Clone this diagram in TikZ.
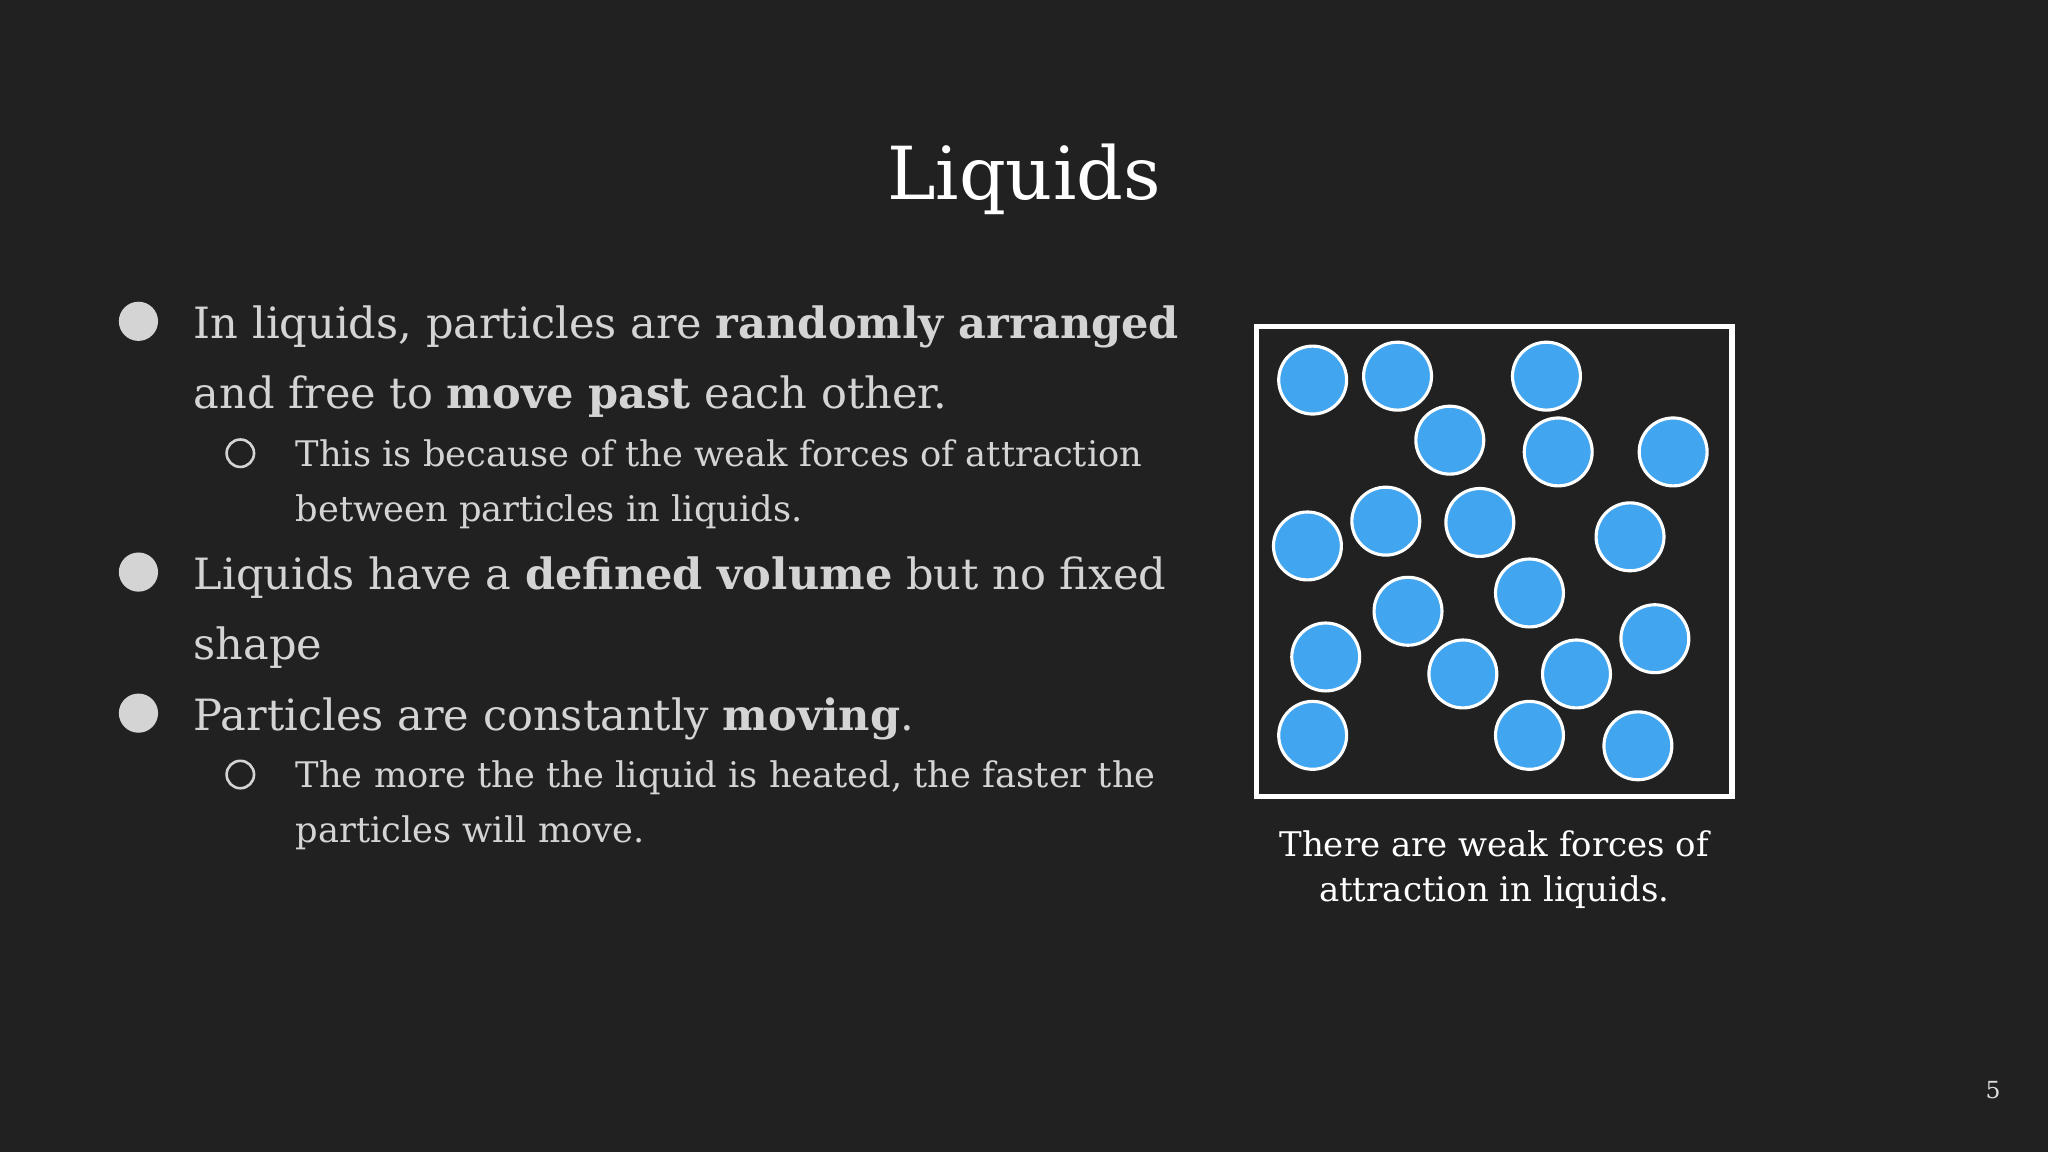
\documentclass[tikz,border=0pt]{standalone}
\usepackage{fontspec}
\setmainfont{DejaVu Serif}
\definecolor{bg}{HTML}{212121}
\definecolor{txt}{HTML}{D4D4D4}
\definecolor{blu}{HTML}{42A5F0}
\begin{document}
\begin{tikzpicture}[x=0.5pt,y=-0.5pt,
 big/.style={anchor=base west,inner sep=0,text=txt,font=\fontsize{16.5}{20}\selectfont},
 small/.style={anchor=base west,inner sep=0,text=txt,font=\fontsize{13.5}{16}\selectfont},
 dot/.style={fill=txt,draw=none},
 ring/.style={draw=txt,line width=1pt},
 part/.style={fill=blu,draw=white,line width=1.2pt}]
\fill[bg] (0,0) rectangle (1568,882);
\useasboundingbox (0,0) rectangle (1568,882);
\node[anchor=base,text=white,font=\fontsize{28}{32}\selectfont] (title) at (784,153) {Liquids};
\fill[dot] (106,246) circle (15);
\fill[dot] (106,438) circle (15);
\fill[dot] (106,546) circle (15);
\draw[ring] (184,347) circle (10.5);
\draw[ring] (184,593) circle (10.5);
\node[big] (l1) at (148,259) {In liquids, particles are \textbf{randomly arranged}};
\node[big] (l2) at (148,313) {and free to \textbf{move past} each other.};
\node[small] (s1) at (226,357) {This is because of the weak forces of attraction};
\node[small] (s2) at (226,399) {between particles in liquids.};
\node[big] (l3) at (148,451) {Liquids have a \textbf{defined volume} but no fixed};
\node[big] (l4) at (148,505) {shape};
\node[big] (l5) at (148,559) {Particles are constantly \textbf{moving}.};
\node[small] (s3) at (226,603) {The more the the liquid is heated, the faster the};
\node[small] (s4) at (226,645) {particles will move.};
\draw[white,line width=2pt] (962,250) rectangle (1326,610);
\foreach \x/\y in {1005/291,1070/288,1184/288,1110/337,1193/346,1281/346,1001/418,1061/399,1133/400,1248/411,1171/454,1078/468,1267/489,1015/503,1120/516,1207/516,1005/563,1171/563,1254/571}
  \draw[part] (\x,\y) circle (26);
\node[anchor=base,inner sep=0,text=white,font=\fontsize{13}{16}\selectfont] (c1) at (1144,656) {There are weak forces of};
\node[anchor=base,inner sep=0,text=white,font=\fontsize{13}{16}\selectfont] (c2) at (1144,690) {attraction in liquids.};
\node[anchor=base,inner sep=0,text=txt!80,font=\fontsize{9}{10}\selectfont] (pg) at (1526,841) {5};
\end{tikzpicture}
\end{document}
